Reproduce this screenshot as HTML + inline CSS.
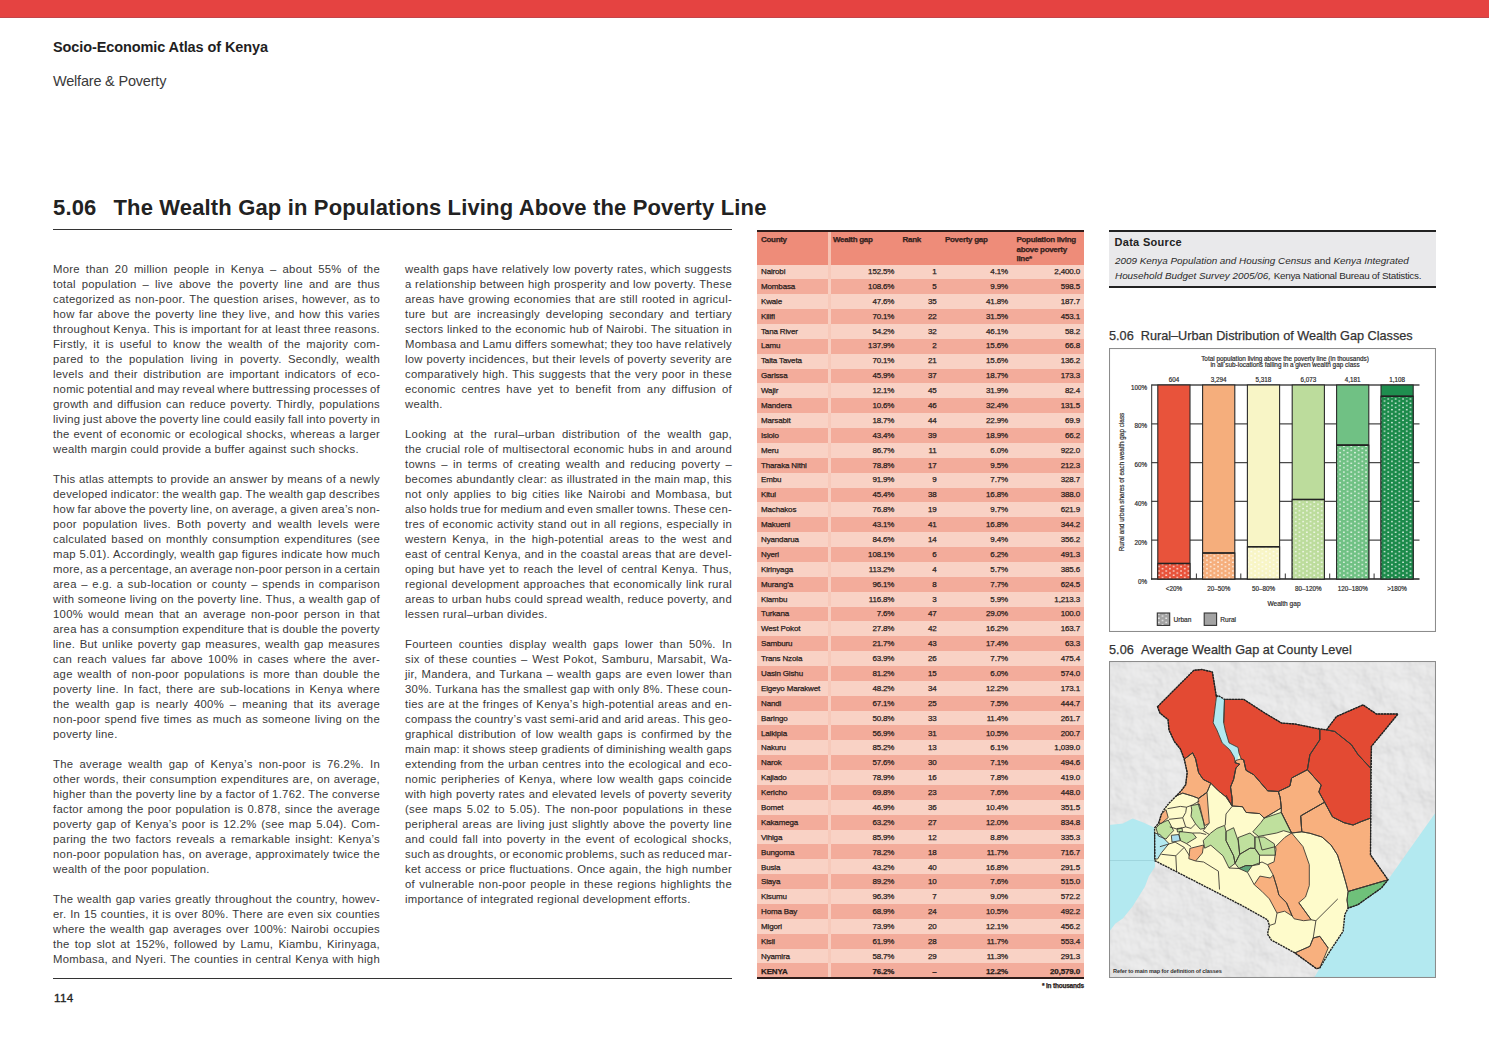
<!DOCTYPE html>
<html><head><meta charset="utf-8"><style>
*{margin:0;padding:0;box-sizing:border-box}
html,body{width:1489px;height:1053px;overflow:hidden;background:#fff}
body{position:relative;font-family:"Liberation Sans",sans-serif;color:#393939}
.a{position:absolute;white-space:nowrap}
.ln{position:absolute;height:15px;line-height:15px;text-align:justify;text-align-last:justify;white-space:normal}
.ll{text-align:left;text-align-last:left}
.tr{position:absolute;left:757px;width:327px;height:14.9px}
.tc{position:absolute;white-space:nowrap;font-size:8px;line-height:10px;color:#2a1c1a;letter-spacing:-0.15px;-webkit-text-stroke:0.25px #2a1c1a}
</style></head><body>

<div class="a" style="left:0;top:0;width:1489px;height:18px;background:#e54341"></div><div class="a" style="left:0;top:17px;width:1489px;height:1px;background:#c4454a"></div>
<div class="a" style="left:53px;top:37.8px;font-size:14.5px;line-height:18px;font-weight:bold;color:#1f1f1f;letter-spacing:-0.1px">Socio-Economic Atlas of Kenya</div>
<div class="a" style="left:53px;top:72px;font-size:14.5px;line-height:18px;color:#3a3a3a;letter-spacing:-0.2px">Welfare &amp; Poverty</div>
<div class="a" style="left:53px;top:195px;font-size:22px;line-height:26px;font-weight:bold;color:#222;letter-spacing:0.15px">5.06</div><div class="a" style="left:113.5px;top:195px;font-size:22px;line-height:26px;font-weight:bold;color:#222;letter-spacing:0.15px">The Wealth Gap in Populations Living Above the Poverty Line</div>
<div class="a" style="left:53px;top:229px;width:679px;height:1.4px;background:#333"></div>
<div class="a" style="left:53px;top:977.6px;width:679px;height:1.4px;background:#333"></div>
<div class="a" style="left:54px;top:990px;font-size:11.6px;line-height:15px;color:#222;letter-spacing:0.3px;-webkit-text-stroke:0.35px #222">114</div>
<div class="ln" style="left:53px;top:261.80px;width:327px;font-size:11.3px;letter-spacing:0.28px;white-space:nowrap">More than 20 million people in Kenya – about 55% of the</div>
<div class="ln" style="left:53px;top:276.80px;width:327px;font-size:11.3px;letter-spacing:0.28px;white-space:nowrap">total population – live above the poverty line and are thus</div>
<div class="ln" style="left:53px;top:291.80px;width:327px;font-size:11.3px;letter-spacing:0.28px;white-space:nowrap">categorized as non-poor. The question arises, however, as to</div>
<div class="ln" style="left:53px;top:306.80px;width:327px;font-size:11.3px;letter-spacing:0.28px;white-space:nowrap">how far above the poverty line they live, and how this varies</div>
<div class="ln" style="left:53px;top:321.80px;width:327px;font-size:11.3px;letter-spacing:0.28px;white-space:nowrap;word-spacing:-0.113px">throughout Kenya. This is important for at least three reasons.</div>
<div class="ln" style="left:53px;top:336.80px;width:327px;font-size:11.3px;letter-spacing:0.28px;white-space:nowrap">Firstly, it is useful to know the wealth of the majority com-</div>
<div class="ln" style="left:53px;top:351.80px;width:327px;font-size:11.3px;letter-spacing:0.28px;white-space:nowrap">pared to the population living in poverty. Secondly, wealth</div>
<div class="ln" style="left:53px;top:366.80px;width:327px;font-size:11.3px;letter-spacing:0.28px;white-space:nowrap">levels and their distribution are important indicators of eco-</div>
<div class="ln" style="left:53px;top:381.80px;width:327px;font-size:11.3px;letter-spacing:0.28px;white-space:nowrap;word-spacing:-0.867px">nomic potential and may reveal where buttressing processes of</div>
<div class="ln" style="left:53px;top:396.80px;width:327px;font-size:11.3px;letter-spacing:0.28px;white-space:nowrap">growth and diffusion can reduce poverty. Thirdly, populations</div>
<div class="ln" style="left:53px;top:411.80px;width:327px;font-size:11.3px;letter-spacing:0.28px;white-space:nowrap;word-spacing:-0.581px">living just above the poverty line could easily fall into poverty in</div>
<div class="ln" style="left:53px;top:426.80px;width:327px;font-size:11.3px;letter-spacing:0.28px;white-space:nowrap">the event of economic or ecological shocks, whereas a larger</div>
<div class="ln ll" style="left:53px;top:441.80px;width:327px;font-size:11.3px;letter-spacing:0.28px;white-space:nowrap">wealth margin could provide a buffer against such shocks.</div>
<div class="ln" style="left:53px;top:471.80px;width:327px;font-size:11.3px;letter-spacing:0.28px;white-space:nowrap">This atlas attempts to provide an answer by means of a newly</div>
<div class="ln" style="left:53px;top:486.80px;width:327px;font-size:11.3px;letter-spacing:0.28px;white-space:nowrap;word-spacing:-0.455px">developed indicator: the wealth gap. The wealth gap describes</div>
<div class="ln" style="left:53px;top:501.80px;width:327px;font-size:11.3px;letter-spacing:0.28px;white-space:nowrap;word-spacing:-0.666px">how far above the poverty line, on average, a given area’s non-</div>
<div class="ln" style="left:53px;top:516.80px;width:327px;font-size:11.3px;letter-spacing:0.28px;white-space:nowrap">poor population lives. Both poverty and wealth levels were</div>
<div class="ln" style="left:53px;top:531.80px;width:327px;font-size:11.3px;letter-spacing:0.28px;white-space:nowrap">calculated based on monthly consumption expenditures (see</div>
<div class="ln" style="left:53px;top:546.80px;width:327px;font-size:11.3px;letter-spacing:0.28px;white-space:nowrap">map 5.01). Accordingly, wealth gap figures indicate how much</div>
<div class="ln" style="left:53px;top:561.80px;width:327px;font-size:11.3px;letter-spacing:0.28px;white-space:nowrap;word-spacing:-1.164px">more, as a percentage, an average non-poor person in a certain</div>
<div class="ln" style="left:53px;top:576.80px;width:327px;font-size:11.3px;letter-spacing:0.28px;white-space:nowrap">area – e.g. a sub-location or county – spends in comparison</div>
<div class="ln" style="left:53px;top:591.80px;width:327px;font-size:11.3px;letter-spacing:0.28px;white-space:nowrap">with someone living on the poverty line. Thus, a wealth gap of</div>
<div class="ln" style="left:53px;top:606.80px;width:327px;font-size:11.3px;letter-spacing:0.28px;white-space:nowrap">100% would mean that an average non-poor person in that</div>
<div class="ln" style="left:53px;top:621.80px;width:327px;font-size:11.3px;letter-spacing:0.28px;white-space:nowrap;word-spacing:-0.356px">area has a consumption expenditure that is double the poverty</div>
<div class="ln" style="left:53px;top:636.80px;width:327px;font-size:11.3px;letter-spacing:0.28px;white-space:nowrap">line. But unlike poverty gap measures, wealth gap measures</div>
<div class="ln" style="left:53px;top:651.80px;width:327px;font-size:11.3px;letter-spacing:0.28px;white-space:nowrap">can reach values far above 100% in cases where the aver-</div>
<div class="ln" style="left:53px;top:666.80px;width:327px;font-size:11.3px;letter-spacing:0.28px;white-space:nowrap">age wealth of non-poor populations is more than double the</div>
<div class="ln" style="left:53px;top:681.80px;width:327px;font-size:11.3px;letter-spacing:0.28px;white-space:nowrap">poverty line. In fact, there are sub-locations in Kenya where</div>
<div class="ln" style="left:53px;top:696.80px;width:327px;font-size:11.3px;letter-spacing:0.28px;white-space:nowrap">the wealth gap is nearly 400% – meaning that its average</div>
<div class="ln" style="left:53px;top:711.80px;width:327px;font-size:11.3px;letter-spacing:0.28px;white-space:nowrap">non-poor spend five times as much as someone living on the</div>
<div class="ln ll" style="left:53px;top:726.80px;width:327px;font-size:11.3px;letter-spacing:0.28px;white-space:nowrap">poverty line.</div>
<div class="ln" style="left:53px;top:756.80px;width:327px;font-size:11.3px;letter-spacing:0.28px;white-space:nowrap">The average wealth gap of Kenya’s non-poor is 76.2%. In</div>
<div class="ln" style="left:53px;top:771.80px;width:327px;font-size:11.3px;letter-spacing:0.28px;white-space:nowrap">other words, their consumption expenditures are, on average,</div>
<div class="ln" style="left:53px;top:786.80px;width:327px;font-size:11.3px;letter-spacing:0.28px;white-space:nowrap;word-spacing:-0.209px">higher than the poverty line by a factor of 1.762. The converse</div>
<div class="ln" style="left:53px;top:801.80px;width:327px;font-size:11.3px;letter-spacing:0.28px;white-space:nowrap">factor among the poor population is 0.878, since the average</div>
<div class="ln" style="left:53px;top:816.80px;width:327px;font-size:11.3px;letter-spacing:0.28px;white-space:nowrap">poverty gap of Kenya’s poor is 12.2% (see map 5.04). Com-</div>
<div class="ln" style="left:53px;top:831.80px;width:327px;font-size:11.3px;letter-spacing:0.28px;white-space:nowrap">paring the two factors reveals a remarkable insight: Kenya’s</div>
<div class="ln" style="left:53px;top:846.80px;width:327px;font-size:11.3px;letter-spacing:0.28px;white-space:nowrap">non-poor population has, on average, approximately twice the</div>
<div class="ln ll" style="left:53px;top:861.80px;width:327px;font-size:11.3px;letter-spacing:0.28px;white-space:nowrap">wealth of the poor population.</div>
<div class="ln" style="left:53px;top:891.80px;width:327px;font-size:11.3px;letter-spacing:0.28px;white-space:nowrap">The wealth gap varies greatly throughout the country, howev-</div>
<div class="ln" style="left:53px;top:906.80px;width:327px;font-size:11.3px;letter-spacing:0.28px;white-space:nowrap">er. In 15 counties, it is over 80%. There are even six counties</div>
<div class="ln" style="left:53px;top:921.80px;width:327px;font-size:11.3px;letter-spacing:0.28px;white-space:nowrap">where the wealth gap averages over 100%: Nairobi occupies</div>
<div class="ln" style="left:53px;top:936.80px;width:327px;font-size:11.3px;letter-spacing:0.28px;white-space:nowrap">the top slot at 152%, followed by Lamu, Kiambu, Kirinyaga,</div>
<div class="ln" style="left:53px;top:951.80px;width:327px;font-size:11.3px;letter-spacing:0.28px;white-space:nowrap">Mombasa, and Nyeri. The counties in central Kenya with high</div>
<div class="ln" style="left:405px;top:261.80px;width:327px;font-size:11.3px;letter-spacing:0.28px;white-space:nowrap">wealth gaps have relatively low poverty rates, which suggests</div>
<div class="ln" style="left:405px;top:276.80px;width:327px;font-size:11.3px;letter-spacing:0.28px;white-space:nowrap;word-spacing:-0.033px">a relationship between high prosperity and low poverty. These</div>
<div class="ln" style="left:405px;top:291.80px;width:327px;font-size:11.3px;letter-spacing:0.28px;white-space:nowrap">areas have growing economies that are still rooted in agricul-</div>
<div class="ln" style="left:405px;top:306.80px;width:327px;font-size:11.3px;letter-spacing:0.28px;white-space:nowrap">ture but are increasingly developing secondary and tertiary</div>
<div class="ln" style="left:405px;top:321.80px;width:327px;font-size:11.3px;letter-spacing:0.28px;white-space:nowrap">sectors linked to the economic hub of Nairobi. The situation in</div>
<div class="ln" style="left:405px;top:336.80px;width:327px;font-size:11.3px;letter-spacing:0.28px;white-space:nowrap;word-spacing:-0.457px">Mombasa and Lamu differs somewhat; they too have relatively</div>
<div class="ln" style="left:405px;top:351.80px;width:327px;font-size:11.3px;letter-spacing:0.28px;white-space:nowrap">low poverty incidences, but their levels of poverty severity are</div>
<div class="ln" style="left:405px;top:366.80px;width:327px;font-size:11.3px;letter-spacing:0.28px;white-space:nowrap">comparatively high. This suggests that the very poor in these</div>
<div class="ln" style="left:405px;top:381.80px;width:327px;font-size:11.3px;letter-spacing:0.28px;white-space:nowrap">economic centres have yet to benefit from any diffusion of</div>
<div class="ln ll" style="left:405px;top:396.80px;width:327px;font-size:11.3px;letter-spacing:0.28px;white-space:nowrap">wealth.</div>
<div class="ln" style="left:405px;top:426.80px;width:327px;font-size:11.3px;letter-spacing:0.28px;white-space:nowrap">Looking at the rural–urban distribution of the wealth gap,</div>
<div class="ln" style="left:405px;top:441.80px;width:327px;font-size:11.3px;letter-spacing:0.28px;white-space:nowrap">the crucial role of multisectoral economic hubs in and around</div>
<div class="ln" style="left:405px;top:456.80px;width:327px;font-size:11.3px;letter-spacing:0.28px;white-space:nowrap">towns – in terms of creating wealth and reducing poverty –</div>
<div class="ln" style="left:405px;top:471.80px;width:327px;font-size:11.3px;letter-spacing:0.28px;white-space:nowrap;word-spacing:-0.035px">becomes abundantly clear: as illustrated in the main map, this</div>
<div class="ln" style="left:405px;top:486.80px;width:327px;font-size:11.3px;letter-spacing:0.28px;white-space:nowrap">not only applies to big cities like Nairobi and Mombasa, but</div>
<div class="ln" style="left:405px;top:501.80px;width:327px;font-size:11.3px;letter-spacing:0.28px;white-space:nowrap;word-spacing:-0.861px">also holds true for medium and even smaller towns. These cen-</div>
<div class="ln" style="left:405px;top:516.80px;width:327px;font-size:11.3px;letter-spacing:0.28px;white-space:nowrap">tres of economic activity stand out in all regions, especially in</div>
<div class="ln" style="left:405px;top:531.80px;width:327px;font-size:11.3px;letter-spacing:0.28px;white-space:nowrap">western Kenya, in the high-potential areas to the west and</div>
<div class="ln" style="left:405px;top:546.80px;width:327px;font-size:11.3px;letter-spacing:0.28px;white-space:nowrap">east of central Kenya, and in the coastal areas that are devel-</div>
<div class="ln" style="left:405px;top:561.80px;width:327px;font-size:11.3px;letter-spacing:0.28px;white-space:nowrap">oping but have yet to reach the level of central Kenya. Thus,</div>
<div class="ln" style="left:405px;top:576.80px;width:327px;font-size:11.3px;letter-spacing:0.28px;white-space:nowrap">regional development approaches that economically link rural</div>
<div class="ln" style="left:405px;top:591.80px;width:327px;font-size:11.3px;letter-spacing:0.28px;white-space:nowrap;word-spacing:-0.023px">areas to urban hubs could spread wealth, reduce poverty, and</div>
<div class="ln ll" style="left:405px;top:606.80px;width:327px;font-size:11.3px;letter-spacing:0.28px;white-space:nowrap">lessen rural–urban divides.</div>
<div class="ln" style="left:405px;top:636.80px;width:327px;font-size:11.3px;letter-spacing:0.28px;white-space:nowrap">Fourteen counties display wealth gaps lower than 50%. In</div>
<div class="ln" style="left:405px;top:651.80px;width:327px;font-size:11.3px;letter-spacing:0.28px;white-space:nowrap">six of these counties – West Pokot, Samburu, Marsabit, Wa-</div>
<div class="ln" style="left:405px;top:666.80px;width:327px;font-size:11.3px;letter-spacing:0.28px;white-space:nowrap">jir, Mandera, and Turkana – wealth gaps are even lower than</div>
<div class="ln" style="left:405px;top:681.80px;width:327px;font-size:11.3px;letter-spacing:0.28px;white-space:nowrap;word-spacing:-0.241px">30%. Turkana has the smallest gap with only 8%. These coun-</div>
<div class="ln" style="left:405px;top:696.80px;width:327px;font-size:11.3px;letter-spacing:0.28px;white-space:nowrap">ties are at the fringes of Kenya’s high-potential areas and en-</div>
<div class="ln" style="left:405px;top:711.80px;width:327px;font-size:11.3px;letter-spacing:0.28px;white-space:nowrap;word-spacing:-0.615px">compass the country’s vast semi-arid and arid areas. This geo-</div>
<div class="ln" style="left:405px;top:726.80px;width:327px;font-size:11.3px;letter-spacing:0.28px;white-space:nowrap">graphical distribution of low wealth gaps is confirmed by the</div>
<div class="ln" style="left:405px;top:741.80px;width:327px;font-size:11.3px;letter-spacing:0.28px;white-space:nowrap;word-spacing:-0.422px">main map: it shows steep gradients of diminishing wealth gaps</div>
<div class="ln" style="left:405px;top:756.80px;width:327px;font-size:11.3px;letter-spacing:0.28px;white-space:nowrap">extending from the urban centres into the ecological and eco-</div>
<div class="ln" style="left:405px;top:771.80px;width:327px;font-size:11.3px;letter-spacing:0.28px;white-space:nowrap">nomic peripheries of Kenya, where low wealth gaps coincide</div>
<div class="ln" style="left:405px;top:786.80px;width:327px;font-size:11.3px;letter-spacing:0.28px;white-space:nowrap">with high poverty rates and elevated levels of poverty severity</div>
<div class="ln" style="left:405px;top:801.80px;width:327px;font-size:11.3px;letter-spacing:0.28px;white-space:nowrap">(see maps 5.02 to 5.05). The non-poor populations in these</div>
<div class="ln" style="left:405px;top:816.80px;width:327px;font-size:11.3px;letter-spacing:0.28px;white-space:nowrap">peripheral areas are living just slightly above the poverty line</div>
<div class="ln" style="left:405px;top:831.80px;width:327px;font-size:11.3px;letter-spacing:0.28px;white-space:nowrap">and could fall into poverty in the event of ecological shocks,</div>
<div class="ln" style="left:405px;top:846.80px;width:327px;font-size:11.3px;letter-spacing:0.28px;white-space:nowrap;word-spacing:-1.087px">such as droughts, or economic problems, such as reduced mar-</div>
<div class="ln" style="left:405px;top:861.80px;width:327px;font-size:11.3px;letter-spacing:0.28px;white-space:nowrap">ket access or price fluctuations. Once again, the high number</div>
<div class="ln" style="left:405px;top:876.80px;width:327px;font-size:11.3px;letter-spacing:0.28px;white-space:nowrap">of vulnerable non-poor people in these regions highlights the</div>
<div class="ln ll" style="left:405px;top:891.80px;width:327px;font-size:11.3px;letter-spacing:0.28px;white-space:nowrap">importance of integrated regional development efforts.</div>
<div class="a" style="left:757px;top:230px;width:327px;height:2px;background:#2e1c1a"></div>
<div class="a" style="left:757px;top:232px;width:327px;height:32.5px;background:#ee8c79"></div>
<div class="a" style="left:828px;top:232px;width:3px;height:32.5px;background:#f6c3b3"></div>
<div class="tc" style="left:761px;top:235.3px;font-weight:bold;line-height:9.2px;color:#3a2320;letter-spacing:-0.3px">County</div>
<div class="tc" style="left:833px;top:235.3px;font-weight:bold;line-height:9.2px;color:#3a2320;letter-spacing:-0.3px">Wealth gap</div>
<div class="tc" style="left:902.5px;top:235.3px;font-weight:bold;line-height:9.2px;color:#3a2320;letter-spacing:-0.3px">Rank</div>
<div class="tc" style="left:945px;top:235.3px;font-weight:bold;line-height:9.2px;color:#3a2320;letter-spacing:-0.3px">Poverty gap</div>
<div class="tc" style="left:1016.5px;top:235.3px;font-weight:bold;line-height:9.2px;color:#3a2320;letter-spacing:-0.3px">Population living<br>above poverty<br>line*</div>
<div class="tr" style="top:264.500px;background:#f9d2c5"></div>
<div class="a" style="left:828px;top:264.500px;width:3px;height:14.87px;background:#f7c9ba"></div>
<div class="tc" style="left:761px;top:266.96px;">Nairobi</div>
<div class="tc" style="right:594.7px;top:266.96px;">152.5%</div>
<div class="tc" style="right:552.4px;top:266.96px;">1</div>
<div class="tc" style="right:481.0px;top:266.96px;">4.1%</div>
<div class="tc" style="right:409.0px;top:266.96px;">2,400.0</div>
<div class="tr" style="top:279.370px;background:#f3ac9b"></div>
<div class="a" style="left:828px;top:279.370px;width:3px;height:14.87px;background:#f8cfc2"></div>
<div class="tc" style="left:761px;top:281.85px;">Mombasa</div>
<div class="tc" style="right:594.7px;top:281.85px;">108.6%</div>
<div class="tc" style="right:552.4px;top:281.85px;">5</div>
<div class="tc" style="right:481.0px;top:281.85px;">9.9%</div>
<div class="tc" style="right:409.0px;top:281.85px;">598.5</div>
<div class="tr" style="top:294.240px;background:#f9d2c5"></div>
<div class="a" style="left:828px;top:294.240px;width:3px;height:14.87px;background:#f7c9ba"></div>
<div class="tc" style="left:761px;top:296.74px;">Kwale</div>
<div class="tc" style="right:594.7px;top:296.74px;">47.6%</div>
<div class="tc" style="right:552.4px;top:296.74px;">35</div>
<div class="tc" style="right:481.0px;top:296.74px;">41.8%</div>
<div class="tc" style="right:409.0px;top:296.74px;">187.7</div>
<div class="tr" style="top:309.110px;background:#f3ac9b"></div>
<div class="a" style="left:828px;top:309.110px;width:3px;height:14.87px;background:#f8cfc2"></div>
<div class="tc" style="left:761px;top:311.63px;">Kilifi</div>
<div class="tc" style="right:594.7px;top:311.63px;">70.1%</div>
<div class="tc" style="right:552.4px;top:311.63px;">22</div>
<div class="tc" style="right:481.0px;top:311.63px;">31.5%</div>
<div class="tc" style="right:409.0px;top:311.63px;">453.1</div>
<div class="tr" style="top:323.980px;background:#f9d2c5"></div>
<div class="a" style="left:828px;top:323.980px;width:3px;height:14.87px;background:#f7c9ba"></div>
<div class="tc" style="left:761px;top:326.52px;">Tana River</div>
<div class="tc" style="right:594.7px;top:326.52px;">54.2%</div>
<div class="tc" style="right:552.4px;top:326.52px;">32</div>
<div class="tc" style="right:481.0px;top:326.52px;">46.1%</div>
<div class="tc" style="right:409.0px;top:326.52px;">58.2</div>
<div class="tr" style="top:338.850px;background:#f3ac9b"></div>
<div class="a" style="left:828px;top:338.850px;width:3px;height:14.87px;background:#f8cfc2"></div>
<div class="tc" style="left:761px;top:341.41px;">Lamu</div>
<div class="tc" style="right:594.7px;top:341.41px;">137.9%</div>
<div class="tc" style="right:552.4px;top:341.41px;">2</div>
<div class="tc" style="right:481.0px;top:341.41px;">15.6%</div>
<div class="tc" style="right:409.0px;top:341.41px;">66.8</div>
<div class="tr" style="top:353.720px;background:#f9d2c5"></div>
<div class="a" style="left:828px;top:353.720px;width:3px;height:14.87px;background:#f7c9ba"></div>
<div class="tc" style="left:761px;top:356.29px;">Taita Taveta</div>
<div class="tc" style="right:594.7px;top:356.29px;">70.1%</div>
<div class="tc" style="right:552.4px;top:356.29px;">21</div>
<div class="tc" style="right:481.0px;top:356.29px;">15.6%</div>
<div class="tc" style="right:409.0px;top:356.29px;">136.2</div>
<div class="tr" style="top:368.590px;background:#f3ac9b"></div>
<div class="a" style="left:828px;top:368.590px;width:3px;height:14.87px;background:#f8cfc2"></div>
<div class="tc" style="left:761px;top:371.18px;">Garissa</div>
<div class="tc" style="right:594.7px;top:371.18px;">45.9%</div>
<div class="tc" style="right:552.4px;top:371.18px;">37</div>
<div class="tc" style="right:481.0px;top:371.18px;">18.7%</div>
<div class="tc" style="right:409.0px;top:371.18px;">173.3</div>
<div class="tr" style="top:383.460px;background:#f9d2c5"></div>
<div class="a" style="left:828px;top:383.460px;width:3px;height:14.87px;background:#f7c9ba"></div>
<div class="tc" style="left:761px;top:386.07px;">Wajir</div>
<div class="tc" style="right:594.7px;top:386.07px;">12.1%</div>
<div class="tc" style="right:552.4px;top:386.07px;">45</div>
<div class="tc" style="right:481.0px;top:386.07px;">31.9%</div>
<div class="tc" style="right:409.0px;top:386.07px;">82.4</div>
<div class="tr" style="top:398.330px;background:#f3ac9b"></div>
<div class="a" style="left:828px;top:398.330px;width:3px;height:14.87px;background:#f8cfc2"></div>
<div class="tc" style="left:761px;top:400.96px;">Mandera</div>
<div class="tc" style="right:594.7px;top:400.96px;">10.6%</div>
<div class="tc" style="right:552.4px;top:400.96px;">46</div>
<div class="tc" style="right:481.0px;top:400.96px;">32.4%</div>
<div class="tc" style="right:409.0px;top:400.96px;">131.5</div>
<div class="tr" style="top:413.200px;background:#f9d2c5"></div>
<div class="a" style="left:828px;top:413.200px;width:3px;height:14.87px;background:#f7c9ba"></div>
<div class="tc" style="left:761px;top:415.85px;">Marsabit</div>
<div class="tc" style="right:594.7px;top:415.85px;">18.7%</div>
<div class="tc" style="right:552.4px;top:415.85px;">44</div>
<div class="tc" style="right:481.0px;top:415.85px;">22.9%</div>
<div class="tc" style="right:409.0px;top:415.85px;">69.9</div>
<div class="tr" style="top:428.070px;background:#f3ac9b"></div>
<div class="a" style="left:828px;top:428.070px;width:3px;height:14.87px;background:#f8cfc2"></div>
<div class="tc" style="left:761px;top:430.74px;">Isiolo</div>
<div class="tc" style="right:594.7px;top:430.74px;">43.4%</div>
<div class="tc" style="right:552.4px;top:430.74px;">39</div>
<div class="tc" style="right:481.0px;top:430.74px;">18.9%</div>
<div class="tc" style="right:409.0px;top:430.74px;">66.2</div>
<div class="tr" style="top:442.940px;background:#f9d2c5"></div>
<div class="a" style="left:828px;top:442.940px;width:3px;height:14.87px;background:#f7c9ba"></div>
<div class="tc" style="left:761px;top:445.63px;">Meru</div>
<div class="tc" style="right:594.7px;top:445.63px;">86.7%</div>
<div class="tc" style="right:552.4px;top:445.63px;">11</div>
<div class="tc" style="right:481.0px;top:445.63px;">6.0%</div>
<div class="tc" style="right:409.0px;top:445.63px;">922.0</div>
<div class="tr" style="top:457.810px;background:#f3ac9b"></div>
<div class="a" style="left:828px;top:457.810px;width:3px;height:14.87px;background:#f8cfc2"></div>
<div class="tc" style="left:761px;top:460.52px;">Tharaka Nithi</div>
<div class="tc" style="right:594.7px;top:460.52px;">78.8%</div>
<div class="tc" style="right:552.4px;top:460.52px;">17</div>
<div class="tc" style="right:481.0px;top:460.52px;">9.5%</div>
<div class="tc" style="right:409.0px;top:460.52px;">212.3</div>
<div class="tr" style="top:472.680px;background:#f9d2c5"></div>
<div class="a" style="left:828px;top:472.680px;width:3px;height:14.87px;background:#f7c9ba"></div>
<div class="tc" style="left:761px;top:475.41px;">Embu</div>
<div class="tc" style="right:594.7px;top:475.41px;">91.9%</div>
<div class="tc" style="right:552.4px;top:475.41px;">9</div>
<div class="tc" style="right:481.0px;top:475.41px;">7.7%</div>
<div class="tc" style="right:409.0px;top:475.41px;">328.7</div>
<div class="tr" style="top:487.550px;background:#f3ac9b"></div>
<div class="a" style="left:828px;top:487.550px;width:3px;height:14.87px;background:#f8cfc2"></div>
<div class="tc" style="left:761px;top:490.30px;">Kitui</div>
<div class="tc" style="right:594.7px;top:490.30px;">45.4%</div>
<div class="tc" style="right:552.4px;top:490.30px;">38</div>
<div class="tc" style="right:481.0px;top:490.30px;">16.8%</div>
<div class="tc" style="right:409.0px;top:490.30px;">388.0</div>
<div class="tr" style="top:502.420px;background:#f9d2c5"></div>
<div class="a" style="left:828px;top:502.420px;width:3px;height:14.87px;background:#f7c9ba"></div>
<div class="tc" style="left:761px;top:505.18px;">Machakos</div>
<div class="tc" style="right:594.7px;top:505.18px;">76.8%</div>
<div class="tc" style="right:552.4px;top:505.18px;">19</div>
<div class="tc" style="right:481.0px;top:505.18px;">9.7%</div>
<div class="tc" style="right:409.0px;top:505.18px;">621.9</div>
<div class="tr" style="top:517.290px;background:#f3ac9b"></div>
<div class="a" style="left:828px;top:517.290px;width:3px;height:14.87px;background:#f8cfc2"></div>
<div class="tc" style="left:761px;top:520.07px;">Makueni</div>
<div class="tc" style="right:594.7px;top:520.07px;">43.1%</div>
<div class="tc" style="right:552.4px;top:520.07px;">41</div>
<div class="tc" style="right:481.0px;top:520.07px;">16.8%</div>
<div class="tc" style="right:409.0px;top:520.07px;">344.2</div>
<div class="tr" style="top:532.160px;background:#f9d2c5"></div>
<div class="a" style="left:828px;top:532.160px;width:3px;height:14.87px;background:#f7c9ba"></div>
<div class="tc" style="left:761px;top:534.96px;">Nyandarua</div>
<div class="tc" style="right:594.7px;top:534.96px;">84.6%</div>
<div class="tc" style="right:552.4px;top:534.96px;">14</div>
<div class="tc" style="right:481.0px;top:534.96px;">9.4%</div>
<div class="tc" style="right:409.0px;top:534.96px;">356.2</div>
<div class="tr" style="top:547.030px;background:#f3ac9b"></div>
<div class="a" style="left:828px;top:547.030px;width:3px;height:14.87px;background:#f8cfc2"></div>
<div class="tc" style="left:761px;top:549.85px;">Nyeri</div>
<div class="tc" style="right:594.7px;top:549.85px;">108.1%</div>
<div class="tc" style="right:552.4px;top:549.85px;">6</div>
<div class="tc" style="right:481.0px;top:549.85px;">6.2%</div>
<div class="tc" style="right:409.0px;top:549.85px;">491.3</div>
<div class="tr" style="top:561.900px;background:#f9d2c5"></div>
<div class="a" style="left:828px;top:561.900px;width:3px;height:14.87px;background:#f7c9ba"></div>
<div class="tc" style="left:761px;top:564.74px;">Kirinyaga</div>
<div class="tc" style="right:594.7px;top:564.74px;">113.2%</div>
<div class="tc" style="right:552.4px;top:564.74px;">4</div>
<div class="tc" style="right:481.0px;top:564.74px;">5.7%</div>
<div class="tc" style="right:409.0px;top:564.74px;">385.6</div>
<div class="tr" style="top:576.770px;background:#f3ac9b"></div>
<div class="a" style="left:828px;top:576.770px;width:3px;height:14.87px;background:#f8cfc2"></div>
<div class="tc" style="left:761px;top:579.63px;">Murang’a</div>
<div class="tc" style="right:594.7px;top:579.63px;">96.1%</div>
<div class="tc" style="right:552.4px;top:579.63px;">8</div>
<div class="tc" style="right:481.0px;top:579.63px;">7.7%</div>
<div class="tc" style="right:409.0px;top:579.63px;">624.5</div>
<div class="tr" style="top:591.640px;background:#f9d2c5"></div>
<div class="a" style="left:828px;top:591.640px;width:3px;height:14.87px;background:#f7c9ba"></div>
<div class="tc" style="left:761px;top:594.52px;">Kiambu</div>
<div class="tc" style="right:594.7px;top:594.52px;">116.8%</div>
<div class="tc" style="right:552.4px;top:594.52px;">3</div>
<div class="tc" style="right:481.0px;top:594.52px;">5.9%</div>
<div class="tc" style="right:409.0px;top:594.52px;">1,213.3</div>
<div class="tr" style="top:606.510px;background:#f3ac9b"></div>
<div class="a" style="left:828px;top:606.510px;width:3px;height:14.87px;background:#f8cfc2"></div>
<div class="tc" style="left:761px;top:609.41px;">Turkana</div>
<div class="tc" style="right:594.7px;top:609.41px;">7.6%</div>
<div class="tc" style="right:552.4px;top:609.41px;">47</div>
<div class="tc" style="right:481.0px;top:609.41px;">29.0%</div>
<div class="tc" style="right:409.0px;top:609.41px;">100.0</div>
<div class="tr" style="top:621.380px;background:#f9d2c5"></div>
<div class="a" style="left:828px;top:621.380px;width:3px;height:14.87px;background:#f7c9ba"></div>
<div class="tc" style="left:761px;top:624.30px;">West Pokot</div>
<div class="tc" style="right:594.7px;top:624.30px;">27.8%</div>
<div class="tc" style="right:552.4px;top:624.30px;">42</div>
<div class="tc" style="right:481.0px;top:624.30px;">16.2%</div>
<div class="tc" style="right:409.0px;top:624.30px;">163.7</div>
<div class="tr" style="top:636.250px;background:#f3ac9b"></div>
<div class="a" style="left:828px;top:636.250px;width:3px;height:14.87px;background:#f8cfc2"></div>
<div class="tc" style="left:761px;top:639.19px;">Samburu</div>
<div class="tc" style="right:594.7px;top:639.19px;">21.7%</div>
<div class="tc" style="right:552.4px;top:639.19px;">43</div>
<div class="tc" style="right:481.0px;top:639.19px;">17.4%</div>
<div class="tc" style="right:409.0px;top:639.19px;">63.3</div>
<div class="tr" style="top:651.120px;background:#f9d2c5"></div>
<div class="a" style="left:828px;top:651.120px;width:3px;height:14.87px;background:#f7c9ba"></div>
<div class="tc" style="left:761px;top:654.07px;">Trans Nzoia</div>
<div class="tc" style="right:594.7px;top:654.07px;">63.9%</div>
<div class="tc" style="right:552.4px;top:654.07px;">26</div>
<div class="tc" style="right:481.0px;top:654.07px;">7.7%</div>
<div class="tc" style="right:409.0px;top:654.07px;">475.4</div>
<div class="tr" style="top:665.990px;background:#f3ac9b"></div>
<div class="a" style="left:828px;top:665.990px;width:3px;height:14.87px;background:#f8cfc2"></div>
<div class="tc" style="left:761px;top:668.96px;">Uasin Gishu</div>
<div class="tc" style="right:594.7px;top:668.96px;">81.2%</div>
<div class="tc" style="right:552.4px;top:668.96px;">15</div>
<div class="tc" style="right:481.0px;top:668.96px;">6.0%</div>
<div class="tc" style="right:409.0px;top:668.96px;">574.0</div>
<div class="tr" style="top:680.860px;background:#f9d2c5"></div>
<div class="a" style="left:828px;top:680.860px;width:3px;height:14.87px;background:#f7c9ba"></div>
<div class="tc" style="left:761px;top:683.85px;">Elgeyo Marakwet</div>
<div class="tc" style="right:594.7px;top:683.85px;">48.2%</div>
<div class="tc" style="right:552.4px;top:683.85px;">34</div>
<div class="tc" style="right:481.0px;top:683.85px;">12.2%</div>
<div class="tc" style="right:409.0px;top:683.85px;">173.1</div>
<div class="tr" style="top:695.730px;background:#f3ac9b"></div>
<div class="a" style="left:828px;top:695.730px;width:3px;height:14.87px;background:#f8cfc2"></div>
<div class="tc" style="left:761px;top:698.74px;">Nandi</div>
<div class="tc" style="right:594.7px;top:698.74px;">67.1%</div>
<div class="tc" style="right:552.4px;top:698.74px;">25</div>
<div class="tc" style="right:481.0px;top:698.74px;">7.5%</div>
<div class="tc" style="right:409.0px;top:698.74px;">444.7</div>
<div class="tr" style="top:710.600px;background:#f9d2c5"></div>
<div class="a" style="left:828px;top:710.600px;width:3px;height:14.87px;background:#f7c9ba"></div>
<div class="tc" style="left:761px;top:713.63px;">Baringo</div>
<div class="tc" style="right:594.7px;top:713.63px;">50.8%</div>
<div class="tc" style="right:552.4px;top:713.63px;">33</div>
<div class="tc" style="right:481.0px;top:713.63px;">11.4%</div>
<div class="tc" style="right:409.0px;top:713.63px;">261.7</div>
<div class="tr" style="top:725.470px;background:#f3ac9b"></div>
<div class="a" style="left:828px;top:725.470px;width:3px;height:14.87px;background:#f8cfc2"></div>
<div class="tc" style="left:761px;top:728.52px;">Laikipia</div>
<div class="tc" style="right:594.7px;top:728.52px;">56.9%</div>
<div class="tc" style="right:552.4px;top:728.52px;">31</div>
<div class="tc" style="right:481.0px;top:728.52px;">10.5%</div>
<div class="tc" style="right:409.0px;top:728.52px;">200.7</div>
<div class="tr" style="top:740.340px;background:#f9d2c5"></div>
<div class="a" style="left:828px;top:740.340px;width:3px;height:14.87px;background:#f7c9ba"></div>
<div class="tc" style="left:761px;top:743.41px;">Nakuru</div>
<div class="tc" style="right:594.7px;top:743.41px;">85.2%</div>
<div class="tc" style="right:552.4px;top:743.41px;">13</div>
<div class="tc" style="right:481.0px;top:743.41px;">6.1%</div>
<div class="tc" style="right:409.0px;top:743.41px;">1,039.0</div>
<div class="tr" style="top:755.210px;background:#f3ac9b"></div>
<div class="a" style="left:828px;top:755.210px;width:3px;height:14.87px;background:#f8cfc2"></div>
<div class="tc" style="left:761px;top:758.30px;">Narok</div>
<div class="tc" style="right:594.7px;top:758.30px;">57.6%</div>
<div class="tc" style="right:552.4px;top:758.30px;">30</div>
<div class="tc" style="right:481.0px;top:758.30px;">7.1%</div>
<div class="tc" style="right:409.0px;top:758.30px;">494.6</div>
<div class="tr" style="top:770.080px;background:#f9d2c5"></div>
<div class="a" style="left:828px;top:770.080px;width:3px;height:14.87px;background:#f7c9ba"></div>
<div class="tc" style="left:761px;top:773.19px;">Kajiado</div>
<div class="tc" style="right:594.7px;top:773.19px;">78.9%</div>
<div class="tc" style="right:552.4px;top:773.19px;">16</div>
<div class="tc" style="right:481.0px;top:773.19px;">7.8%</div>
<div class="tc" style="right:409.0px;top:773.19px;">419.0</div>
<div class="tr" style="top:784.950px;background:#f3ac9b"></div>
<div class="a" style="left:828px;top:784.950px;width:3px;height:14.87px;background:#f8cfc2"></div>
<div class="tc" style="left:761px;top:788.08px;">Kericho</div>
<div class="tc" style="right:594.7px;top:788.08px;">69.8%</div>
<div class="tc" style="right:552.4px;top:788.08px;">23</div>
<div class="tc" style="right:481.0px;top:788.08px;">7.6%</div>
<div class="tc" style="right:409.0px;top:788.08px;">448.0</div>
<div class="tr" style="top:799.820px;background:#f9d2c5"></div>
<div class="a" style="left:828px;top:799.820px;width:3px;height:14.87px;background:#f7c9ba"></div>
<div class="tc" style="left:761px;top:802.96px;">Bomet</div>
<div class="tc" style="right:594.7px;top:802.96px;">46.9%</div>
<div class="tc" style="right:552.4px;top:802.96px;">36</div>
<div class="tc" style="right:481.0px;top:802.96px;">10.4%</div>
<div class="tc" style="right:409.0px;top:802.96px;">351.5</div>
<div class="tr" style="top:814.690px;background:#f3ac9b"></div>
<div class="a" style="left:828px;top:814.690px;width:3px;height:14.87px;background:#f8cfc2"></div>
<div class="tc" style="left:761px;top:817.85px;">Kakamega</div>
<div class="tc" style="right:594.7px;top:817.85px;">63.2%</div>
<div class="tc" style="right:552.4px;top:817.85px;">27</div>
<div class="tc" style="right:481.0px;top:817.85px;">12.0%</div>
<div class="tc" style="right:409.0px;top:817.85px;">834.8</div>
<div class="tr" style="top:829.560px;background:#f9d2c5"></div>
<div class="a" style="left:828px;top:829.560px;width:3px;height:14.87px;background:#f7c9ba"></div>
<div class="tc" style="left:761px;top:832.74px;">Vihiga</div>
<div class="tc" style="right:594.7px;top:832.74px;">85.9%</div>
<div class="tc" style="right:552.4px;top:832.74px;">12</div>
<div class="tc" style="right:481.0px;top:832.74px;">8.8%</div>
<div class="tc" style="right:409.0px;top:832.74px;">335.3</div>
<div class="tr" style="top:844.430px;background:#f3ac9b"></div>
<div class="a" style="left:828px;top:844.430px;width:3px;height:14.87px;background:#f8cfc2"></div>
<div class="tc" style="left:761px;top:847.63px;">Bungoma</div>
<div class="tc" style="right:594.7px;top:847.63px;">78.2%</div>
<div class="tc" style="right:552.4px;top:847.63px;">18</div>
<div class="tc" style="right:481.0px;top:847.63px;">11.7%</div>
<div class="tc" style="right:409.0px;top:847.63px;">716.7</div>
<div class="tr" style="top:859.300px;background:#f9d2c5"></div>
<div class="a" style="left:828px;top:859.300px;width:3px;height:14.87px;background:#f7c9ba"></div>
<div class="tc" style="left:761px;top:862.52px;">Busia</div>
<div class="tc" style="right:594.7px;top:862.52px;">43.2%</div>
<div class="tc" style="right:552.4px;top:862.52px;">40</div>
<div class="tc" style="right:481.0px;top:862.52px;">16.8%</div>
<div class="tc" style="right:409.0px;top:862.52px;">291.5</div>
<div class="tr" style="top:874.170px;background:#f3ac9b"></div>
<div class="a" style="left:828px;top:874.170px;width:3px;height:14.87px;background:#f8cfc2"></div>
<div class="tc" style="left:761px;top:877.41px;">Siaya</div>
<div class="tc" style="right:594.7px;top:877.41px;">89.2%</div>
<div class="tc" style="right:552.4px;top:877.41px;">10</div>
<div class="tc" style="right:481.0px;top:877.41px;">7.6%</div>
<div class="tc" style="right:409.0px;top:877.41px;">515.0</div>
<div class="tr" style="top:889.040px;background:#f9d2c5"></div>
<div class="a" style="left:828px;top:889.040px;width:3px;height:14.87px;background:#f7c9ba"></div>
<div class="tc" style="left:761px;top:892.30px;">Kisumu</div>
<div class="tc" style="right:594.7px;top:892.30px;">96.3%</div>
<div class="tc" style="right:552.4px;top:892.30px;">7</div>
<div class="tc" style="right:481.0px;top:892.30px;">9.0%</div>
<div class="tc" style="right:409.0px;top:892.30px;">572.2</div>
<div class="tr" style="top:903.910px;background:#f3ac9b"></div>
<div class="a" style="left:828px;top:903.910px;width:3px;height:14.87px;background:#f8cfc2"></div>
<div class="tc" style="left:761px;top:907.19px;">Homa Bay</div>
<div class="tc" style="right:594.7px;top:907.19px;">68.9%</div>
<div class="tc" style="right:552.4px;top:907.19px;">24</div>
<div class="tc" style="right:481.0px;top:907.19px;">10.5%</div>
<div class="tc" style="right:409.0px;top:907.19px;">492.2</div>
<div class="tr" style="top:918.780px;background:#f9d2c5"></div>
<div class="a" style="left:828px;top:918.780px;width:3px;height:14.87px;background:#f7c9ba"></div>
<div class="tc" style="left:761px;top:922.08px;">Migori</div>
<div class="tc" style="right:594.7px;top:922.08px;">73.9%</div>
<div class="tc" style="right:552.4px;top:922.08px;">20</div>
<div class="tc" style="right:481.0px;top:922.08px;">12.1%</div>
<div class="tc" style="right:409.0px;top:922.08px;">456.2</div>
<div class="tr" style="top:933.650px;background:#f3ac9b"></div>
<div class="a" style="left:828px;top:933.650px;width:3px;height:14.87px;background:#f8cfc2"></div>
<div class="tc" style="left:761px;top:936.97px;">Kisii</div>
<div class="tc" style="right:594.7px;top:936.97px;">61.9%</div>
<div class="tc" style="right:552.4px;top:936.97px;">28</div>
<div class="tc" style="right:481.0px;top:936.97px;">11.7%</div>
<div class="tc" style="right:409.0px;top:936.97px;">553.4</div>
<div class="tr" style="top:948.520px;background:#f9d2c5"></div>
<div class="a" style="left:828px;top:948.520px;width:3px;height:14.87px;background:#f7c9ba"></div>
<div class="tc" style="left:761px;top:951.85px;">Nyamira</div>
<div class="tc" style="right:594.7px;top:951.85px;">58.7%</div>
<div class="tc" style="right:552.4px;top:951.85px;">29</div>
<div class="tc" style="right:481.0px;top:951.85px;">11.3%</div>
<div class="tc" style="right:409.0px;top:951.85px;">291.3</div>
<div class="tr" style="top:963.390px;background:#f3ac9b"></div>
<div class="a" style="left:828px;top:963.390px;width:3px;height:14.87px;background:#f8cfc2"></div>
<div class="tc" style="left:761px;top:966.74px;font-weight:bold;">KENYA</div>
<div class="tc" style="right:594.7px;top:966.74px;font-weight:bold;">76.2%</div>
<div class="tc" style="right:552.4px;top:966.74px;font-weight:bold;">–</div>
<div class="tc" style="right:481.0px;top:966.74px;font-weight:bold;">12.2%</div>
<div class="tc" style="right:409.0px;top:966.74px;font-weight:bold;">20,579.0</div>
<div class="a" style="left:757px;top:977.06px;width:327px;height:2px;background:#2e1c1a"></div>
<div class="tc" style="right:405px;top:980.6px;font-size:6.5px;font-weight:bold;letter-spacing:-0.2px">* in thousands</div>
<div class="a" style="left:1109px;top:230px;width:327px;height:58px;background:#e9e9eb;border-top:2px solid #222;border-bottom:2px solid #222"></div>
<div class="a" style="left:1114.5px;top:235.7px;font-size:11px;line-height:13px;font-weight:bold;color:#222;letter-spacing:0.3px">Data Source</div>
<div class="a" style="left:1115px;top:253px;font-size:9.9px;line-height:15px;color:#2a2a2a"><i>2009 Kenya Population and Housing Census</i> and <i>Kenya Integrated</i><br><i>Household Budget Survey 2005/06,</i> <span style="letter-spacing:-0.28px">Kenya National Bureau of Statistics.</span></div>
<div class="a" style="left:1109px;top:328px;font-size:12.7px;line-height:16px;color:#333;-webkit-text-stroke:0.25px #333">5.06&nbsp;&nbsp;Rural–Urban Distribution of Wealth Gap Classes</div>
<svg class="a" style="left:1109px;top:348px" width="327" height="284" viewBox="1109 348 327 284"><defs><pattern id="dots" patternUnits="userSpaceOnUse" width="7.4" height="4.3" x="1157" y="385"><circle cx="1.85" cy="1.05" r="0.75" fill="#fff" fill-opacity="1"/><circle cx="5.55" cy="3.2" r="0.75" fill="#fff" fill-opacity="1"/></pattern></defs><rect x="1109.5" y="348.5" width="326" height="283" fill="#fff" stroke="#8c8c8c" stroke-width="1.1"/><line x1="1151.5" x2="1419.5" y1="385.00" y2="385.00" stroke="#4a4a4a" stroke-width="1.3"/><line x1="1151.5" x2="1419.5" y1="423.80" y2="423.80" stroke="#4a4a4a" stroke-width="1.3"/><line x1="1151.5" x2="1419.5" y1="462.60" y2="462.60" stroke="#4a4a4a" stroke-width="1.3"/><line x1="1151.5" x2="1419.5" y1="501.40" y2="501.40" stroke="#4a4a4a" stroke-width="1.3"/><line x1="1151.5" x2="1419.5" y1="540.20" y2="540.20" stroke="#4a4a4a" stroke-width="1.3"/><line x1="1151.7" x2="1151.7" y1="384.5" y2="579.5" stroke="#333" stroke-width="1"/><line x1="1151" x2="1419.5" y1="579" y2="579" stroke="#222" stroke-width="1.6"/><line x1="1196.4" x2="1196.4" y1="573.5" y2="579" stroke="#333" stroke-width="1"/><line x1="1240.8" x2="1240.8" y1="573.5" y2="579" stroke="#333" stroke-width="1"/><line x1="1285.3" x2="1285.3" y1="573.5" y2="579" stroke="#333" stroke-width="1"/><line x1="1329.7" x2="1329.7" y1="573.5" y2="579" stroke="#333" stroke-width="1"/><line x1="1374.1" x2="1374.1" y1="573.5" y2="579" stroke="#333" stroke-width="1"/><rect x="1157.8" y="385.00" width="32.2" height="194.00" fill="#e8533b" stroke="#2a2a2a" stroke-width="1.1"/><rect x="1157.8" y="563.48" width="32.2" height="15.52" fill="#e8533b" stroke="#2a2a2a" stroke-width="1.1"/><rect x="1158.3999999999999" y="564.28" width="31.000000000000004" height="14.12" fill="url(#dots)"/><line x1="1157.8" x2="1190.0" y1="563.48" y2="563.48" stroke="#222" stroke-width="1.6"/><text x="1173.9" y="381.8" text-anchor="middle" font-size="6.3" fill="#2a2a2a" stroke="#2a2a2a" stroke-width="0.18">604</text><text x="1173.9" y="590.5" text-anchor="middle" font-size="6.3" fill="#2a2a2a" stroke="#2a2a2a" stroke-width="0.18">&lt;20%</text><rect x="1202.6" y="385.00" width="32.2" height="194.00" fill="#f5ae7c" stroke="#2a2a2a" stroke-width="1.1"/><rect x="1202.6" y="553.00" width="32.2" height="26.00" fill="#f5ae7c" stroke="#2a2a2a" stroke-width="1.1"/><rect x="1203.1999999999998" y="553.80" width="31.000000000000004" height="24.60" fill="url(#dots)"/><line x1="1202.6" x2="1234.8" y1="553.00" y2="553.00" stroke="#222" stroke-width="1.6"/><text x="1218.7" y="381.8" text-anchor="middle" font-size="6.3" fill="#2a2a2a" stroke="#2a2a2a" stroke-width="0.18">3,294</text><text x="1218.7" y="590.5" text-anchor="middle" font-size="6.3" fill="#2a2a2a" stroke="#2a2a2a" stroke-width="0.18">20–50%</text><rect x="1247.4" y="385.00" width="32.2" height="194.00" fill="#f8f5c6" stroke="#2a2a2a" stroke-width="1.1"/><rect x="1247.4" y="546.80" width="32.2" height="32.20" fill="#f8f5c6" stroke="#2a2a2a" stroke-width="1.1"/><rect x="1248.0" y="547.60" width="31.000000000000004" height="30.80" fill="url(#dots)"/><line x1="1247.4" x2="1279.6000000000001" y1="546.80" y2="546.80" stroke="#222" stroke-width="1.6"/><text x="1263.5" y="381.8" text-anchor="middle" font-size="6.3" fill="#2a2a2a" stroke="#2a2a2a" stroke-width="0.18">5,318</text><text x="1263.5" y="590.5" text-anchor="middle" font-size="6.3" fill="#2a2a2a" stroke="#2a2a2a" stroke-width="0.18">50–80%</text><rect x="1292.2" y="385.00" width="32.2" height="194.00" fill="#bcdc9c" stroke="#2a2a2a" stroke-width="1.1"/><rect x="1292.2" y="499.46" width="32.2" height="79.54" fill="#bcdc9c" stroke="#2a2a2a" stroke-width="1.1"/><rect x="1292.8" y="500.26" width="31.000000000000004" height="78.14" fill="url(#dots)"/><line x1="1292.2" x2="1324.4" y1="499.46" y2="499.46" stroke="#222" stroke-width="1.6"/><text x="1308.3" y="381.8" text-anchor="middle" font-size="6.3" fill="#2a2a2a" stroke="#2a2a2a" stroke-width="0.18">6,073</text><text x="1308.3" y="590.5" text-anchor="middle" font-size="6.3" fill="#2a2a2a" stroke="#2a2a2a" stroke-width="0.18">80–120%</text><rect x="1336.6" y="385.00" width="32.2" height="194.00" fill="#70c184" stroke="#2a2a2a" stroke-width="1.1"/><rect x="1336.6" y="445.14" width="32.2" height="133.86" fill="#70c184" stroke="#2a2a2a" stroke-width="1.1"/><rect x="1337.1999999999998" y="445.94" width="31.000000000000004" height="132.46" fill="url(#dots)"/><line x1="1336.6" x2="1368.8" y1="445.14" y2="445.14" stroke="#222" stroke-width="1.6"/><text x="1352.7" y="381.8" text-anchor="middle" font-size="6.3" fill="#2a2a2a" stroke="#2a2a2a" stroke-width="0.18">4,181</text><text x="1352.7" y="590.5" text-anchor="middle" font-size="6.3" fill="#2a2a2a" stroke="#2a2a2a" stroke-width="0.18">120–180%</text><rect x="1381.0" y="385.00" width="32.2" height="194.00" fill="#1f8e4f" stroke="#2a2a2a" stroke-width="1.1"/><rect x="1381.0" y="396.25" width="32.2" height="182.75" fill="#1b8a4a" stroke="#2a2a2a" stroke-width="1.1"/><rect x="1381.6" y="397.05" width="31.000000000000004" height="181.35" fill="url(#dots)"/><line x1="1381.0" x2="1413.2" y1="396.25" y2="396.25" stroke="#222" stroke-width="1.6"/><text x="1397.1" y="381.8" text-anchor="middle" font-size="6.3" fill="#2a2a2a" stroke="#2a2a2a" stroke-width="0.18">1,108</text><text x="1397.1" y="590.5" text-anchor="middle" font-size="6.3" fill="#2a2a2a" stroke="#2a2a2a" stroke-width="0.18">&gt;180%</text><text x="1147" y="389.60" text-anchor="end" font-size="6.3" fill="#2a2a2a" stroke="#2a2a2a" stroke-width="0.18">100%</text><text x="1147" y="428.40" text-anchor="end" font-size="6.3" fill="#2a2a2a" stroke="#2a2a2a" stroke-width="0.18">80%</text><text x="1147" y="467.20" text-anchor="end" font-size="6.3" fill="#2a2a2a" stroke="#2a2a2a" stroke-width="0.18">60%</text><text x="1147" y="506.00" text-anchor="end" font-size="6.3" fill="#2a2a2a" stroke="#2a2a2a" stroke-width="0.18">40%</text><text x="1147" y="544.80" text-anchor="end" font-size="6.3" fill="#2a2a2a" stroke="#2a2a2a" stroke-width="0.18">20%</text><text x="1147" y="583.60" text-anchor="end" font-size="6.3" fill="#2a2a2a" stroke="#2a2a2a" stroke-width="0.18">0%</text><text x="1285" y="360.7" text-anchor="middle" font-size="6.4" fill="#2a2a2a" stroke="#2a2a2a" stroke-width="0.18">Total population living above the poverty line (in thousands)</text><text x="1285" y="367.4" text-anchor="middle" font-size="6.4" fill="#2a2a2a" stroke="#2a2a2a" stroke-width="0.18">in all sub-locations falling in a given wealth gap class</text><text x="1284" y="605.6" text-anchor="middle" font-size="6.6" fill="#2a2a2a" stroke="#2a2a2a" stroke-width="0.18">Wealth gap</text><text transform="translate(1123.6 482) rotate(-90)" text-anchor="middle" font-size="6.4" fill="#2a2a2a" stroke="#2a2a2a" stroke-width="0.18">Rural and urban shares of each wealth gap class</text><rect x="1157.3" y="613" width="12.4" height="12.4" fill="#a3a3a3" stroke="#333" stroke-width="1.1"/><rect x="1158" y="613.8" width="11" height="11" fill="url(#dots)"/><text x="1173.5" y="622" font-size="6.6" fill="#2a2a2a" stroke="#2a2a2a" stroke-width="0.18">Urban</text><rect x="1204.2" y="613" width="12.4" height="12.4" fill="#a3a3a3" stroke="#333" stroke-width="1.1"/><text x="1220.3" y="622" font-size="6.6" fill="#2a2a2a" stroke="#2a2a2a" stroke-width="0.18">Rural</text></svg>
<div class="a" style="left:1109px;top:642px;font-size:12.7px;line-height:16px;color:#333;letter-spacing:0.05px;-webkit-text-stroke:0.25px #333">5.06&nbsp;&nbsp;Average Wealth Gap at County Level</div>
<svg class="a" style="left:1109px;top:661px" width="327" height="317" viewBox="1109 661 327 317"><defs><filter id="relief" x="0" y="0" width="100%" height="100%"><feTurbulence type="fractalNoise" baseFrequency="0.035" numOctaves="4" seed="7" result="n"/><feDiffuseLighting in="n" lighting-color="#fff" surfaceScale="3.5" result="l"><feDistantLight azimuth="315" elevation="52"/></feDiffuseLighting><feColorMatrix type="matrix" values="0.33 0.33 0.33 0 0.02  0.33 0.33 0.33 0 0.02  0.33 0.33 0.33 0 0.03  0 0 0 1 0"/></filter></defs><rect x="1109" y="661" width="327" height="317" fill="#e7e7e7"/><rect x="1109" y="661" width="327" height="317" filter="url(#relief)" opacity="0.3"/><polygon fill="#b3e9f0" points="1109,825 1122.8,823.5 1132.7,818.5 1142.6,822.2 1153.7,827.2 1155,827 1155,866.7 1148.7,876.5 1145,886.4 1138.9,896.3 1132.7,906.2 1122.8,918.5 1115.4,923.5 1110.5,930 1109,932"/><line x1="1109" x2="1155" y1="860.5" y2="860.5" stroke="#9fd6de" stroke-width="1"/><polygon fill="#b3e9f0" points="1436,812 1388,879.8 1381.3,888.1 1364.7,899.8 1358,904.7 1348.1,908.1 1344.8,914.7 1343.1,931.3 1336.5,941.3 1329.8,951.3 1319.8,967.9 1314,978 1436,978"/><polygon fill="#fefbcb" points="1157.5,706.7 1193.8,670.3 1201.9,669.5 1212.4,672.0 1216.4,697.0 1218.0,695.4 1224.5,699.4 1243.8,699.4 1265.0,713.2 1281.6,723.1 1294.9,724.0 1314.9,728.1 1326.5,729.8 1336.5,716.5 1363.0,704.9 1376.4,714.0 1398.0,714.0 1371.4,746.4 1370.5,854.9 1388.0,879.8 1381.3,888.1 1364.7,899.8 1358.0,904.7 1348.1,908.1 1344.8,914.7 1343.1,931.3 1336.5,941.3 1329.8,951.3 1319.8,967.9 1316.5,968.7 1294.9,952.9 1271.3,940.0 1267.5,934.0 1269.4,925.5 1267.5,919.8 1243.7,906.5 1220.0,894.1 1154.9,860.7 1154.6,827.9 1158.6,823.3 1161.4,814.2 1164.8,808.5 1169.4,802.8 1176.2,796.0 1181.2,790.8 1185.7,784.7 1187.2,772.6 1184.2,758.9 1180.4,749.0 1174.3,741.4 1169.0,730.0 1168.0,719.6 1159.9,713.1"/><polygon fill="#e34a33" points="1157.5,706.7 1193.8,670.3 1201.9,669.5 1212.4,672.0 1216.4,697.0 1213.2,722.8 1216.9,730.0 1222.2,742.9 1229.8,749.8 1234.3,757.4 1235.1,762.7 1239.7,764.2 1235.9,768.0 1233.6,779.4 1230.5,787.0 1232.1,798.4 1232.1,806.0 1226.0,796.9 1218.4,790.8 1210.8,783.2 1203.2,779.4 1198.6,772.6 1195.6,758.9 1192.6,752.8 1185.7,758.1 1184.2,758.9 1180.4,749.0 1174.3,741.4 1169.0,730.0 1168.0,719.6 1159.9,713.1"/><polygon fill="#e34a33" points="1224.5,699.4 1243.8,699.4 1265.0,713.2 1281.6,723.1 1294.9,724.0 1314.9,728.1 1319.8,729.5 1319.8,739.8 1309.9,754.7 1307.4,769.7 1291.6,778.0 1289.9,786.0 1278.3,791.5 1267.6,790.8 1253.9,774.8 1246.0,770.3 1243.7,760.0 1241.2,758.9 1238.9,752.8 1238.1,747.5 1229.0,742.9 1225.2,730.0 1223.7,722.8"/><polygon fill="#e34a33" points="1336.5,716.5 1363.0,704.9 1376.4,714.0 1398.0,714.0 1371.4,746.4 1370.5,768.0 1358.1,754.7 1351.4,744.7 1334.8,731.5 1326.5,729.8"/><polygon fill="#e34a33" points="1319.8,729.5 1326.5,729.8 1334.8,731.5 1351.4,744.7 1358.1,754.7 1370.5,768.0 1370.5,818.1 1361.1,821.6 1353.1,825.0 1344.0,822.7 1332.6,817.0 1324.6,802.2 1318.9,791.9 1321.2,785.1 1307.4,769.7 1309.9,754.7 1319.8,739.8"/><polygon fill="#f8b07e" points="1235.9,760.4 1241.2,758.9 1243.7,760.0 1246.0,770.3 1253.9,774.8 1267.6,790.8 1278.3,791.5 1280.2,797.6 1281.3,807.9 1264.2,818.1 1259.6,813.6 1246.0,812.4 1242.5,806.7 1232.1,806.0 1232.1,798.4 1230.5,787.0 1233.6,779.4 1235.9,768.0 1239.7,764.2 1235.1,762.7"/><polygon fill="#f8b07e" points="1307.4,769.7 1321.2,785.1 1318.9,791.9 1324.6,802.2 1300.7,815.9 1301.8,831.8 1291.6,833.0 1281.3,812.4 1281.3,807.9 1280.2,797.6 1278.3,791.5 1289.9,786.0 1291.6,778.0"/><polygon fill="#f8b07e" points="1324.6,802.2 1332.6,817.0 1344.0,822.7 1353.1,825.0 1361.1,821.6 1370.5,818.1 1370.5,854.9 1388.0,879.8 1348.1,891.5 1346.4,884.8 1343.1,873.2 1337.5,855.0 1331.0,845.0 1322.0,837.0 1310.0,833.3 1301.8,831.8 1300.7,815.9"/><polygon fill="#f8b07e" points="1284.7,837.5 1291.6,833.0 1303.0,846.6 1309.3,864.7 1309.3,885.6 1305.5,897.0 1298.8,902.7 1311.2,919.8 1303.6,920.7 1294.1,918.8 1292.2,916.0 1286.5,902.7 1278.9,895.1 1277.0,887.5 1273.2,875.1 1267.5,864.7 1274.1,861.8 1276.0,849.5 1275.6,846.6"/><polygon fill="#f8b07e" points="1259.9,876.1 1270.3,878.0 1273.2,875.1 1277.0,887.5 1278.9,895.1 1286.5,902.7 1292.2,916.0 1284.6,911.2 1277.0,913.1 1269.4,898.9 1261.8,891.3 1254.2,884.6"/><polygon fill="#f8b07e" points="1313.2,938.0 1319.8,936.3 1328.2,948.0 1319.8,967.9 1316.5,968.7 1294.9,952.9 1309.9,946.3"/><polygon fill="#f8b07e" points="1184.2,758.9 1185.7,758.1 1192.6,752.8 1195.6,758.9 1198.6,772.6 1203.2,779.4 1210.8,783.2 1207.0,792.3 1198.6,798.4 1192.6,796.1 1182.7,793.1 1175.8,796.1 1181.2,790.8 1185.7,784.7 1187.2,772.6"/><polygon fill="#f8b07e" points="1198.6,798.4 1207.0,792.3 1209.3,823.3 1204.7,825.6 1201.3,814.2 1197.9,802.8"/><polygon fill="#f8b07e" points="1166.0,809.6 1168.2,817.6 1161.4,823.3 1158.6,823.3 1161.4,814.2"/><polygon fill="#f8b07e" points="1189.9,848.4 1203.6,845.0 1202.4,853.0 1195.6,861.0 1188.8,858.7"/><polygon fill="#bfe09d" points="1191.0,805.6 1199.4,804.1 1203.2,820.1 1204.7,828.4 1200.2,829.2 1195.6,823.9 1191.0,816.3 1191.8,810.0"/><polygon fill="#bfe09d" points="1203.2,840.6 1210.8,833.0 1216.9,828.4 1224.5,825.4 1226.0,831.5 1226.0,840.6 1233.6,855.8 1235.1,863.4 1229.0,868.0 1223.0,855.8 1210.8,845.2 1204.7,848.2"/><polygon fill="#bfe09d" points="1226.0,831.5 1233.6,827.7 1238.1,840.6 1239.7,854.3 1235.1,863.4 1233.6,855.8 1226.0,840.6"/><polygon fill="#bfe09d" points="1238.1,837.6 1250.0,833.0 1254.9,837.0 1254.9,848.4 1250.0,848.2 1239.7,854.3"/><polygon fill="#bfe09d" points="1239.7,854.3 1250.0,848.2 1254.9,848.4 1259.5,855.2 1259.5,864.4 1252.3,865.6 1245.6,865.6 1239.0,868.5 1235.1,863.4"/><polygon fill="#bfe09d" points="1254.9,837.0 1264.0,837.0 1274.3,843.8 1275.4,855.2 1259.5,855.2 1254.9,848.4"/><polygon fill="#bfe09d" points="1264.2,818.1 1281.3,812.4 1291.6,833.0 1283.6,830.7 1276.7,833.0 1258.5,836.4 1252.8,831.8 1260.8,822.7"/><polygon fill="#bfe09d" points="1159.9,823.9 1168.2,820.0 1173.6,830.7 1169.8,834.5 1166.0,839.1 1158.4,836.0 1156.0,828.0"/><polygon fill="#bfe09d" points="1179.6,831.5 1192.6,833.0 1196.4,837.6 1186.5,843.6 1180.4,840.6 1178.9,834.5"/><polygon fill="#bfe09d" points="1177.0,828.5 1182.0,828.0 1182.5,831.5 1177.5,832.0"/><polygon fill="#6fc17a" points="1348.1,891.5 1388.0,879.8 1381.3,888.1 1364.7,899.8 1358.0,904.7 1348.1,908.1 1347.0,900.0"/><polygon fill="#5fa77a" points="1239.0,868.5 1245.6,865.6 1252.3,865.6 1247.5,872.3"/><polygon fill="#b3e9f0" points="1218.0,695.0 1224.5,699.4 1223.7,722.8 1225.2,730.0 1229.0,742.9 1238.1,747.5 1238.9,752.8 1238.1,759.6 1235.9,760.4 1234.3,757.4 1229.8,749.8 1222.2,742.9 1216.9,730.0 1213.2,722.8 1216.4,697.0"/><polygon fill="#b3e9f0" points="1154.5,833.0 1159.9,834.5 1169.0,843.6 1161.4,852.8 1157.6,859.0 1154.5,859.0"/><polygon fill="#a9dcef" points="1171.3,835.3 1178.9,834.5 1180.4,840.6 1172.0,842.1"/><polygon fill="none" stroke="#3d3a33" stroke-width="0.9" stroke-linejoin="round" points="1157.5,706.7 1193.8,670.3 1201.9,669.5 1212.4,672.0 1216.4,697.0 1213.2,722.8 1216.9,730.0 1222.2,742.9 1229.8,749.8 1234.3,757.4 1235.1,762.7 1239.7,764.2 1235.9,768.0 1233.6,779.4 1230.5,787.0 1232.1,798.4 1232.1,806.0 1226.0,796.9 1218.4,790.8 1210.8,783.2 1203.2,779.4 1198.6,772.6 1195.6,758.9 1192.6,752.8 1185.7,758.1 1184.2,758.9 1180.4,749.0 1174.3,741.4 1169.0,730.0 1168.0,719.6 1159.9,713.1"/><polygon fill="none" stroke="#3d3a33" stroke-width="0.9" stroke-linejoin="round" points="1224.5,699.4 1243.8,699.4 1265.0,713.2 1281.6,723.1 1294.9,724.0 1314.9,728.1 1319.8,729.5 1319.8,739.8 1309.9,754.7 1307.4,769.7 1291.6,778.0 1289.9,786.0 1278.3,791.5 1267.6,790.8 1253.9,774.8 1246.0,770.3 1243.7,760.0 1241.2,758.9 1238.9,752.8 1238.1,747.5 1229.0,742.9 1225.2,730.0 1223.7,722.8"/><polygon fill="none" stroke="#3d3a33" stroke-width="0.9" stroke-linejoin="round" points="1336.5,716.5 1363.0,704.9 1376.4,714.0 1398.0,714.0 1371.4,746.4 1370.5,768.0 1358.1,754.7 1351.4,744.7 1334.8,731.5 1326.5,729.8"/><polygon fill="none" stroke="#3d3a33" stroke-width="0.9" stroke-linejoin="round" points="1319.8,729.5 1326.5,729.8 1334.8,731.5 1351.4,744.7 1358.1,754.7 1370.5,768.0 1370.5,818.1 1361.1,821.6 1353.1,825.0 1344.0,822.7 1332.6,817.0 1324.6,802.2 1318.9,791.9 1321.2,785.1 1307.4,769.7 1309.9,754.7 1319.8,739.8"/><polygon fill="none" stroke="#3d3a33" stroke-width="0.9" stroke-linejoin="round" points="1235.9,760.4 1241.2,758.9 1243.7,760.0 1246.0,770.3 1253.9,774.8 1267.6,790.8 1278.3,791.5 1280.2,797.6 1281.3,807.9 1264.2,818.1 1259.6,813.6 1246.0,812.4 1242.5,806.7 1232.1,806.0 1232.1,798.4 1230.5,787.0 1233.6,779.4 1235.9,768.0 1239.7,764.2 1235.1,762.7"/><polygon fill="none" stroke="#3d3a33" stroke-width="0.9" stroke-linejoin="round" points="1307.4,769.7 1321.2,785.1 1318.9,791.9 1324.6,802.2 1300.7,815.9 1301.8,831.8 1291.6,833.0 1281.3,812.4 1281.3,807.9 1280.2,797.6 1278.3,791.5 1289.9,786.0 1291.6,778.0"/><polygon fill="none" stroke="#3d3a33" stroke-width="0.9" stroke-linejoin="round" points="1324.6,802.2 1332.6,817.0 1344.0,822.7 1353.1,825.0 1361.1,821.6 1370.5,818.1 1370.5,854.9 1388.0,879.8 1348.1,891.5 1346.4,884.8 1343.1,873.2 1337.5,855.0 1331.0,845.0 1322.0,837.0 1310.0,833.3 1301.8,831.8 1300.7,815.9"/><polygon fill="none" stroke="#3d3a33" stroke-width="0.9" stroke-linejoin="round" points="1348.1,891.5 1388.0,879.8 1381.3,888.1 1364.7,899.8 1358.0,904.7 1348.1,908.1 1347.0,900.0"/><polygon fill="none" stroke="#3d3a33" stroke-width="0.9" stroke-linejoin="round" points="1284.7,837.5 1291.6,833.0 1303.0,846.6 1309.3,864.7 1309.3,885.6 1305.5,897.0 1298.8,902.7 1311.2,919.8 1303.6,920.7 1294.1,918.8 1292.2,916.0 1286.5,902.7 1278.9,895.1 1277.0,887.5 1273.2,875.1 1267.5,864.7 1274.1,861.8 1276.0,849.5 1275.6,846.6"/><polygon fill="none" stroke="#3d3a33" stroke-width="0.9" stroke-linejoin="round" points="1259.9,876.1 1270.3,878.0 1273.2,875.1 1277.0,887.5 1278.9,895.1 1286.5,902.7 1292.2,916.0 1284.6,911.2 1277.0,913.1 1269.4,898.9 1261.8,891.3 1254.2,884.6"/><polygon fill="none" stroke="#3d3a33" stroke-width="0.9" stroke-linejoin="round" points="1313.2,938.0 1319.8,936.3 1328.2,948.0 1319.8,967.9 1316.5,968.7 1294.9,952.9 1309.9,946.3"/><polygon fill="none" stroke="#3d3a33" stroke-width="0.9" stroke-linejoin="round" points="1184.2,758.9 1185.7,758.1 1192.6,752.8 1195.6,758.9 1198.6,772.6 1203.2,779.4 1210.8,783.2 1207.0,792.3 1198.6,798.4 1192.6,796.1 1182.7,793.1 1175.8,796.1 1181.2,790.8 1185.7,784.7 1187.2,772.6"/><polygon fill="none" stroke="#3d3a33" stroke-width="0.9" stroke-linejoin="round" points="1198.6,798.4 1207.0,792.3 1209.3,823.3 1204.7,825.6 1201.3,814.2 1197.9,802.8"/><polygon fill="none" stroke="#3d3a33" stroke-width="0.9" stroke-linejoin="round" points="1166.0,809.6 1168.2,817.6 1161.4,823.3 1158.6,823.3 1161.4,814.2"/><polygon fill="none" stroke="#3d3a33" stroke-width="0.9" stroke-linejoin="round" points="1189.9,848.4 1203.6,845.0 1202.4,853.0 1195.6,861.0 1188.8,858.7"/><polygon fill="none" stroke="#3d3a33" stroke-width="0.9" stroke-linejoin="round" points="1191.0,805.6 1199.4,804.1 1203.2,820.1 1204.7,828.4 1200.2,829.2 1195.6,823.9 1191.0,816.3 1191.8,810.0"/><polygon fill="none" stroke="#3d3a33" stroke-width="0.9" stroke-linejoin="round" points="1203.2,840.6 1210.8,833.0 1216.9,828.4 1224.5,825.4 1226.0,831.5 1226.0,840.6 1233.6,855.8 1235.1,863.4 1229.0,868.0 1223.0,855.8 1210.8,845.2 1204.7,848.2"/><polygon fill="none" stroke="#3d3a33" stroke-width="0.9" stroke-linejoin="round" points="1226.0,831.5 1233.6,827.7 1238.1,840.6 1239.7,854.3 1235.1,863.4 1233.6,855.8 1226.0,840.6"/><polygon fill="none" stroke="#3d3a33" stroke-width="0.9" stroke-linejoin="round" points="1238.1,837.6 1250.0,833.0 1254.9,837.0 1254.9,848.4 1250.0,848.2 1239.7,854.3"/><polygon fill="none" stroke="#3d3a33" stroke-width="0.9" stroke-linejoin="round" points="1239.7,854.3 1250.0,848.2 1254.9,848.4 1259.5,855.2 1259.5,864.4 1252.3,865.6 1245.6,865.6 1239.0,868.5 1235.1,863.4"/><polygon fill="none" stroke="#3d3a33" stroke-width="0.9" stroke-linejoin="round" points="1254.9,837.0 1264.0,837.0 1274.3,843.8 1275.4,855.2 1259.5,855.2 1254.9,848.4"/><polygon fill="none" stroke="#3d3a33" stroke-width="0.9" stroke-linejoin="round" points="1264.2,818.1 1281.3,812.4 1291.6,833.0 1283.6,830.7 1276.7,833.0 1258.5,836.4 1252.8,831.8 1260.8,822.7"/><polygon fill="none" stroke="#3d3a33" stroke-width="0.9" stroke-linejoin="round" points="1159.9,823.9 1168.2,820.0 1173.6,830.7 1169.8,834.5 1166.0,839.1 1158.4,836.0 1156.0,828.0"/><polygon fill="none" stroke="#3d3a33" stroke-width="0.9" stroke-linejoin="round" points="1179.6,831.5 1192.6,833.0 1196.4,837.6 1186.5,843.6 1180.4,840.6 1178.9,834.5"/><polygon fill="none" stroke="#3d3a33" stroke-width="0.9" stroke-linejoin="round" points="1177.0,828.5 1182.0,828.0 1182.5,831.5 1177.5,832.0"/><polygon fill="none" stroke="#3d3a33" stroke-width="0.9" stroke-linejoin="round" points="1239.0,868.5 1245.6,865.6 1252.3,865.6 1247.5,872.3"/><polygon fill="none" stroke="#3d3a33" stroke-width="0.9" stroke-linejoin="round" points="1171.3,835.3 1178.9,834.5 1180.4,840.6 1172.0,842.1"/><polygon fill="none" stroke="#3d3a33" stroke-width="0.9" stroke-linejoin="round" points="1154.5,833.0 1159.9,834.5 1169.0,843.6 1161.4,852.8 1157.6,859.0 1154.5,859.0"/><polyline fill="none" stroke="#3d3a33" stroke-width="0.9" stroke-linejoin="round" points="1224.5,699.4 1223.7,722.8"/><polyline fill="none" stroke="#3d3a33" stroke-width="0.9" stroke-linejoin="round" points="1319.8,729.5 1319.8,739.8 1309.9,754.7 1307.4,769.7 1291.6,778.0 1289.9,786.0 1278.3,791.5 1267.6,790.8 1253.9,774.8 1246.0,770.3 1243.7,760.0 1241.2,758.9"/><polyline fill="none" stroke="#3d3a33" stroke-width="0.9" stroke-linejoin="round" points="1326.5,729.8 1334.8,731.5 1351.4,744.7 1358.1,754.7 1370.5,768.0"/><polyline fill="none" stroke="#3d3a33" stroke-width="0.9" stroke-linejoin="round" points="1307.4,769.7 1321.2,785.1 1318.9,791.9 1324.6,802.2 1332.6,817.0 1344.0,822.7 1353.1,825.0 1361.1,821.6 1370.5,818.1"/><polyline fill="none" stroke="#3d3a33" stroke-width="0.9" stroke-linejoin="round" points="1324.6,802.2 1300.7,815.9 1301.8,831.8 1310.0,833.3 1322.0,837.0 1331.0,845.0 1337.5,855.0 1343.1,873.2 1346.4,884.8 1348.1,891.5 1388.0,879.8"/><polyline fill="none" stroke="#3d3a33" stroke-width="0.9" stroke-linejoin="round" points="1348.1,891.5 1347.0,900.0 1348.1,908.1"/><polyline fill="none" stroke="#3d3a33" stroke-width="0.9" stroke-linejoin="round" points="1278.3,791.5 1280.2,797.6 1281.3,807.9 1264.2,818.1 1259.6,813.6 1246.0,812.4 1242.5,806.7 1232.1,806.0"/><polyline fill="none" stroke="#3d3a33" stroke-width="0.9" stroke-linejoin="round" points="1281.3,807.9 1281.3,812.4 1291.6,833.0 1301.8,831.8"/><polyline fill="none" stroke="#3d3a33" stroke-width="0.9" stroke-linejoin="round" points="1235.9,760.4 1235.1,762.7 1239.7,764.2 1235.9,768.0 1233.6,779.4 1230.5,787.0 1232.1,798.4 1232.1,806.0 1226.0,796.9 1218.4,790.8 1210.8,783.2 1203.2,779.4 1198.6,772.6 1195.6,758.9 1192.6,752.8 1185.7,758.1 1184.2,758.9"/><polyline fill="none" stroke="#3d3a33" stroke-width="0.9" stroke-linejoin="round" points="1175.8,796.1 1182.7,793.1 1192.6,796.1 1198.6,798.4 1207.0,792.3 1210.8,783.2"/><polyline fill="none" stroke="#3d3a33" stroke-width="0.9" stroke-linejoin="round" points="1167.5,808.7 1180.4,806.4 1186.5,807.2 1192.6,804.9 1199.4,801.0"/><polyline fill="none" stroke="#3d3a33" stroke-width="0.9" stroke-linejoin="round" points="1169.0,819.3 1182.7,817.8 1185.7,812.5 1186.5,807.2"/><polyline fill="none" stroke="#3d3a33" stroke-width="0.9" stroke-linejoin="round" points="1182.7,817.8 1185.7,826.9 1191.0,828.4 1195.6,823.9"/><polyline fill="none" stroke="#3d3a33" stroke-width="0.9" stroke-linejoin="round" points="1169.8,826.9 1177.4,829.2 1185.7,826.9"/><polyline fill="none" stroke="#3d3a33" stroke-width="0.9" stroke-linejoin="round" points="1192.6,833.0 1200.2,833.0 1206.2,834.5"/><polyline fill="none" stroke="#3d3a33" stroke-width="0.9" stroke-linejoin="round" points="1226.0,795.0 1232.1,806.4 1226.0,814.0 1225.2,825.4"/><polyline fill="none" stroke="#3d3a33" stroke-width="0.9" stroke-linejoin="round" points="1209.3,834.5 1203.2,830.7 1208.5,823.9"/><polyline fill="none" stroke="#3d3a33" stroke-width="0.9" stroke-linejoin="round" points="1159.9,846.7 1175.1,842.1 1184.2,847.4 1175.8,855.8 1161.4,854.3"/><polyline fill="none" stroke="#3d3a33" stroke-width="0.9" stroke-linejoin="round" points="1175.8,855.8 1176.6,871.0"/><polyline fill="none" stroke="#3d3a33" stroke-width="0.9" stroke-linejoin="round" points="1184.2,847.4 1189.5,855.8"/><polyline fill="none" stroke="#3d3a33" stroke-width="0.9" stroke-linejoin="round" points="1186.5,843.6 1191.0,846.7"/><polyline fill="none" stroke="#3d3a33" stroke-width="0.9" stroke-linejoin="round" points="1195.6,861.0 1203.6,862.0 1218.4,871.2 1219.5,889.5"/><polyline fill="none" stroke="#3d3a33" stroke-width="0.9" stroke-linejoin="round" points="1229.0,868.0 1239.0,868.5"/><polyline fill="none" stroke="#3d3a33" stroke-width="0.9" stroke-linejoin="round" points="1247.5,872.3 1254.2,884.6"/><polyline fill="none" stroke="#3d3a33" stroke-width="0.9" stroke-linejoin="round" points="1252.3,865.6 1262.0,862.0 1267.5,864.7"/><polyline fill="none" stroke="#3d3a33" stroke-width="0.9" stroke-linejoin="round" points="1258.5,836.4 1262.0,850.0 1275.6,846.6"/><polyline fill="none" stroke="#3d3a33" stroke-width="0.9" stroke-linejoin="round" points="1277.0,913.1 1275.1,923.6 1269.4,925.5"/><polyline fill="none" stroke="#3d3a33" stroke-width="0.9" stroke-linejoin="round" points="1311.2,919.8 1315.9,920.7 1337.8,898.9"/><polyline fill="none" stroke="#3d3a33" stroke-width="0.9" stroke-linejoin="round" points="1315.9,920.7 1313.2,938.0"/><polyline fill="none" stroke="#3d3a33" stroke-width="0.9" stroke-linejoin="round" points="1294.9,952.9 1309.9,946.3 1313.2,938.0 1319.8,936.3 1328.2,948.0"/><polyline fill="none" stroke="#3d3a33" stroke-width="0.9" stroke-linejoin="round" points="1298.8,902.7 1311.2,919.8"/><polygon fill="none" stroke="#222" stroke-width="1.4" stroke-dasharray="2.2 0.7" points="1157.5,706.7 1193.8,670.3 1201.9,669.5 1212.4,672.0 1216.4,697.0 1218.0,695.4 1224.5,699.4 1243.8,699.4 1265.0,713.2 1281.6,723.1 1294.9,724.0 1314.9,728.1 1326.5,729.8 1336.5,716.5 1363.0,704.9 1376.4,714.0 1398.0,714.0 1371.4,746.4 1370.5,854.9 1388.0,879.8 1381.3,888.1 1364.7,899.8 1358.0,904.7 1348.1,908.1 1344.8,914.7 1343.1,931.3 1336.5,941.3 1329.8,951.3 1319.8,967.9 1316.5,968.7 1294.9,952.9 1271.3,940.0 1267.5,934.0 1269.4,925.5 1267.5,919.8 1243.7,906.5 1220.0,894.1 1154.9,860.7 1154.6,827.9 1158.6,823.3 1161.4,814.2 1164.8,808.5 1169.4,802.8 1176.2,796.0 1181.2,790.8 1185.7,784.7 1187.2,772.6 1184.2,758.9 1180.4,749.0 1174.3,741.4 1169.0,730.0 1168.0,719.6 1159.9,713.1"/><text x="1113" y="972.6" font-size="5.6" font-weight="bold" fill="#333" letter-spacing="-0.1">Refer to main map for definition of classes</text><rect x="1109.5" y="661.5" width="326" height="316" fill="none" stroke="#8c8c8c" stroke-width="1.1"/></svg>
</body></html>
